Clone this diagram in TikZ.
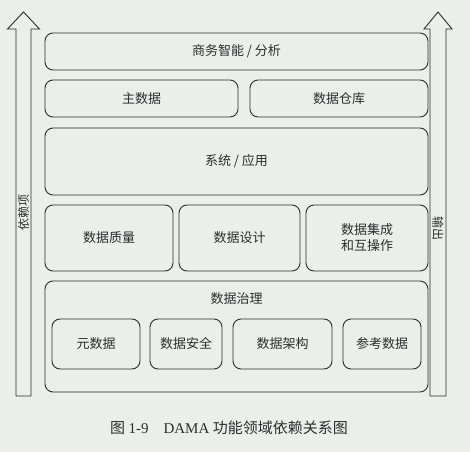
\documentclass[tikz,border=0pt]{standalone}
\usepackage{fontspec}
\setmainfont{Noto Sans CJK SC}
\newfontfamily\latinserif{Liberation Serif}
\definecolor{paper}{RGB}{236,238,234}
\definecolor{ink}{RGB}{45,45,45}
\begin{document}
\begin{tikzpicture}[x=1pt,y=-1pt,
  box/.style={draw=ink, line width=0.9pt, rounded corners=8pt, inner sep=0pt, anchor=center},
  lbl/.style={text=ink, font=\fontsize{13}{16}\selectfont, align=center},
  arr/.style={draw=ink, line width=0.9pt, line join=miter},
  side/.style={text=ink, font=\fontsize{12}{14}\selectfont}]
\fill[paper] (0,0) rectangle (470,452);
\useasboundingbox (0,0) rectangle (470,452);
% row 1
\node[box, minimum width=383pt, minimum height=37pt] (bi) at (236.5,51.5) {};
\node[lbl] (bit) at (bi.center) {商务智能 / 分析};
% row 2
\node[box, minimum width=193pt, minimum height=37pt] (md) at (141.5,98.5) {};
\node[lbl] (mdt) at (md.center) {主数据};
\node[box, minimum width=178pt, minimum height=37pt] (dw) at (339,98.5) {};
\node[lbl] (dwt) at (dw.center) {数据仓库};
% row 3
\node[box, minimum width=383pt, minimum height=67pt] (sys) at (236.5,161.5) {};
\node[lbl] (syst) at (sys.center) {系统 / 应用};
% row 4
\node[box, minimum width=128pt, minimum height=66pt] (dq) at (109,238) {};
\node[lbl] (dqt) at (dq.center) {数据质量};
\node[box, minimum width=121pt, minimum height=66pt] (dd) at (239.5,238) {};
\node[lbl] (ddt) at (dd.center) {数据设计};
\node[box, minimum width=122pt, minimum height=66pt] (di) at (367,238) {};
\node[lbl] (dit) at (di.center) {数据集成\\和互操作};
% row 5
\node[box, minimum width=383pt, minimum height=111pt] (dg) at (236.5,336.5) {};
\node[lbl] (dgt) at (236.5,299) {数据治理};
\node[box, minimum width=88pt, minimum height=50pt] (meta) at (96,344) {};
\node[lbl] (metat) at (meta.center) {元数据};
\node[box, minimum width=72pt, minimum height=50pt] (sec) at (186,344) {};
\node[lbl] (sect) at (sec.center) {数据安全};
\node[box, minimum width=99pt, minimum height=50pt] (arch) at (282.5,344) {};
\node[lbl] (archt) at (arch.center) {数据架构};
\node[box, minimum width=78pt, minimum height=50pt] (ref) at (382,344) {};
\node[lbl] (reft) at (ref.center) {参考数据};
% left arrow
\draw[arr] (16,396) -- (16,29) -- (7.5,29) -- (23.5,12) -- (39.5,29) -- (31,29) -- (31,396) -- cycle;
\node[side, rotate=90] (dep) at (23.5,212) {依赖项};
% right arrow
\draw[arr] (430,396) -- (430,29) -- (424,29) -- (438,12) -- (452,29) -- (446,29) -- (446,396) -- cycle;
\node[side, rotate=-90] (out) at (438,228) {输出};
% caption
\node[text=ink, font=\fontsize{15}{18}\selectfont] (cap) at (229,428) {图 {\latinserif 1-9}\quad {\latinserif DAMA} 功能领域依赖关系图};
\end{tikzpicture}
\end{document}
